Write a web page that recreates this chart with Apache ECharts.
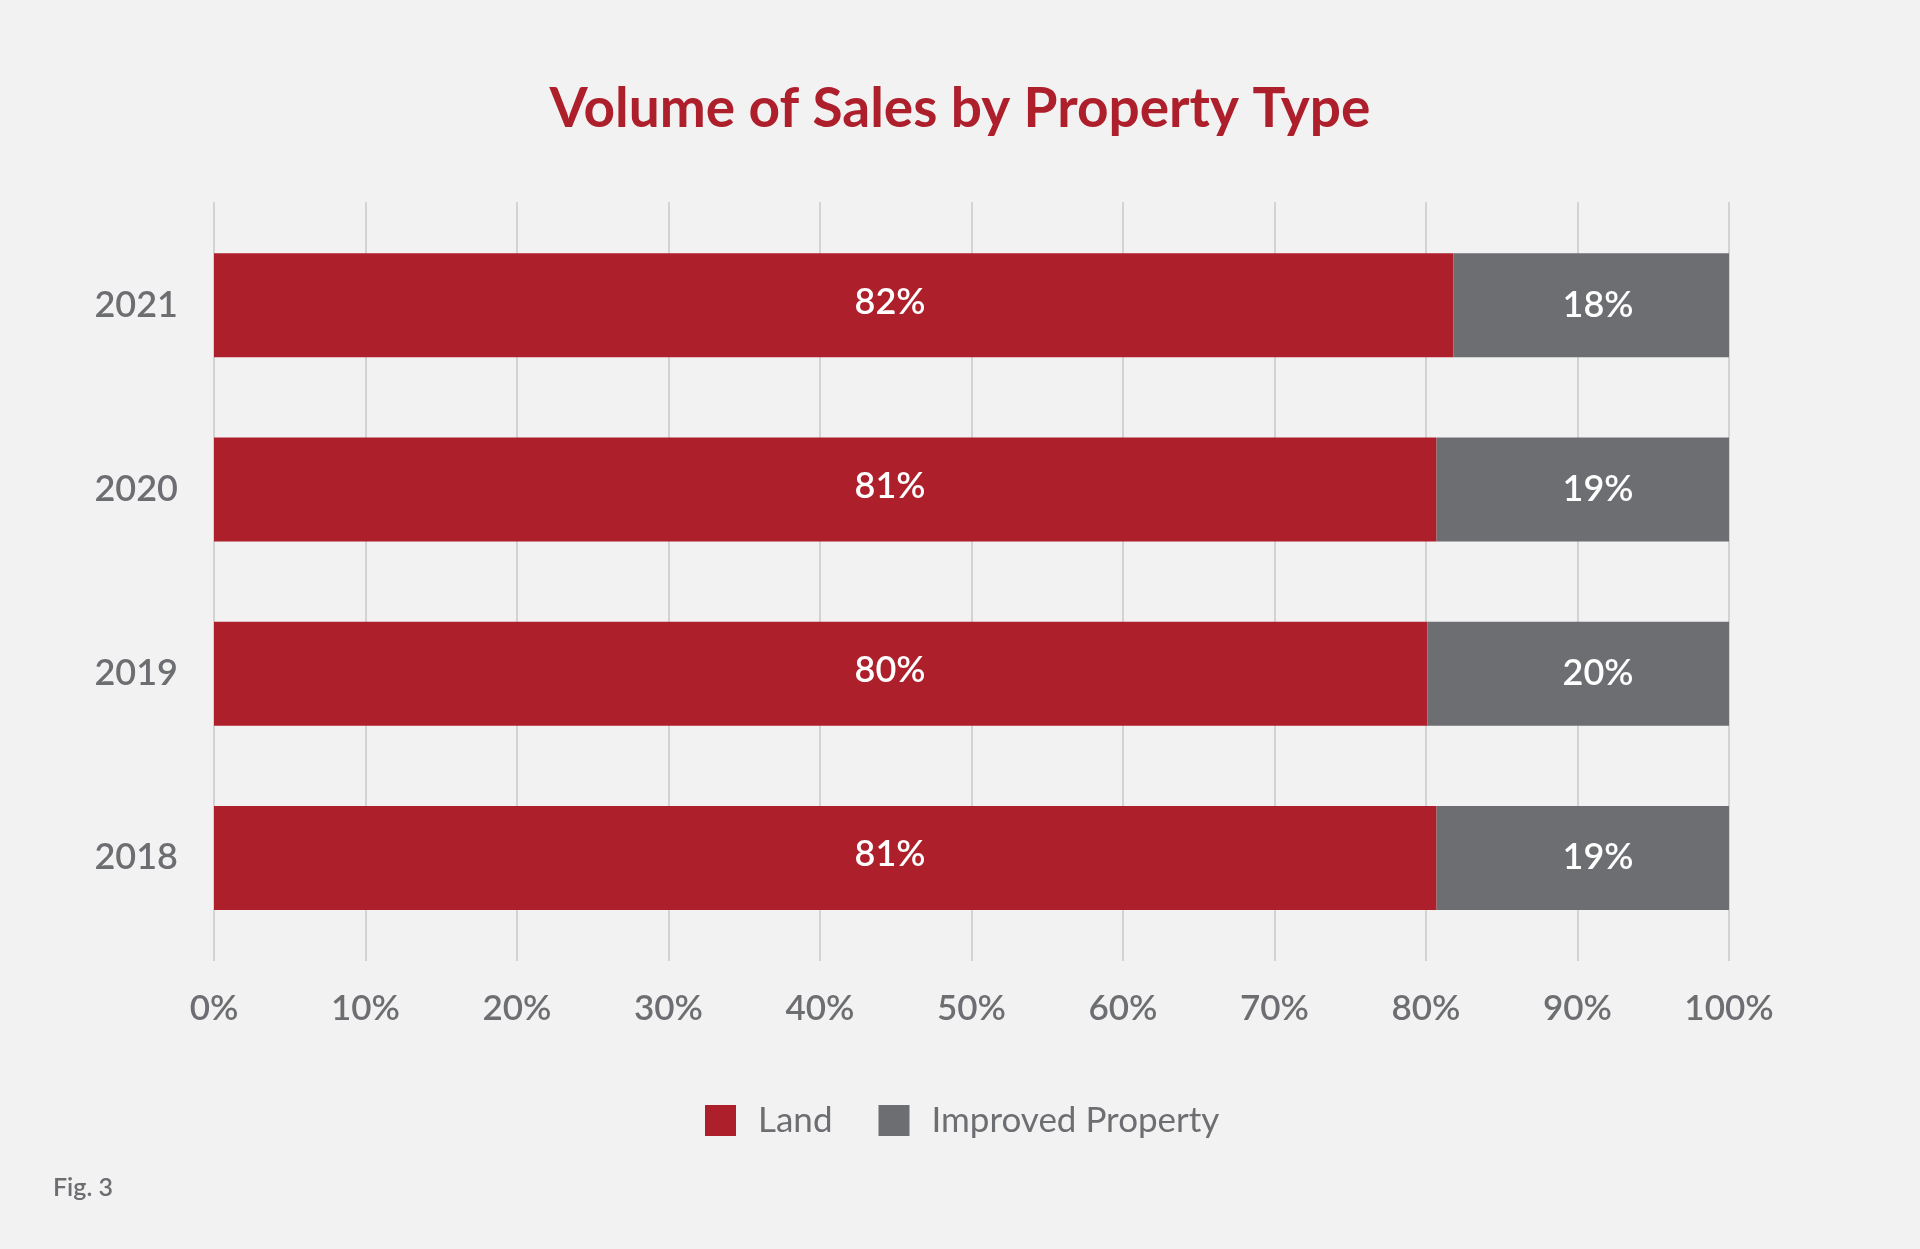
<!DOCTYPE html>
<html><head><meta charset="utf-8">
<script src="https://cdn.jsdelivr.net/npm/echarts@6/dist/echarts.min.js"></script>
<style>html,body{margin:0;padding:0;background:#f2f2f2;}#c{width:1920px;height:1249px;}</style>
</head><body><div id="c"></div>
<script>
const years = ['2018', '2019', '2020', '2021'];
const landShare = [80.7, 80.1, 80.7, 81.8];
const improvedShare = [19.3, 19.9, 19.3, 18.2];
const xTicks = [0, 10, 20, 30, 40, 50, 60, 70, 80, 90, 100];

const RED = '#ae1f2c', GRAY = '#6d6e71', TXT = '#6d6e71';
const FONT = 'Lato, "Open Sans", sans-serif';
const chart = echarts.init(document.getElementById('c'));
chart.setOption({
  backgroundColor: '#f2f2f2',
  title: [
    { text: 'Volume of Sales by Property Type', left: 'center', top: 73,
      textStyle: { fontFamily: FONT, fontWeight: 'bold', fontSize: 55, lineHeight: 62, color: RED } },
    { text: 'Fig. 3', left: 48, top: 1170,
      textStyle: { fontFamily: FONT, fontWeight: 600, fontSize: 25, color: TXT } }
  ],
  legend: {
    left: 700, top: 1098, itemWidth: 31, itemHeight: 31, itemGap: 46, icon: 'rect',
    textStyle: { fontFamily: FONT, fontSize: 35, color: TXT, padding: [0, 0, 0, 17] },
    data: ['Land', 'Improved Property']
  },
  grid: [
    { left: 214, right: 191, top: 202, height: 759 },
    { left: 214, right: 191, top: 213, height: 737 }
  ],
  xAxis: [
    { gridIndex: 0, type: 'value', min: xTicks[0], max: xTicks[xTicks.length - 1], interval: 10,
      axisLine: { show: false }, axisTick: { show: false },
      splitLine: { show: true, lineStyle: { color: '#c8c8c8', width: 1.5 } },
      axisLabel: { formatter: '{value}%', fontFamily: FONT, fontWeight: 600, fontSize: 35, lineHeight: 40, color: TXT, margin: 28 } },
    { gridIndex: 1, type: 'value', min: 0, max: 100, show: false }
  ],
  yAxis: [
    { gridIndex: 0, type: 'category', data: years, show: false },
    { gridIndex: 1, type: 'category', data: years,
      axisLine: { show: false }, axisTick: { show: false },
      axisLabel: { fontFamily: FONT, fontWeight: 600, fontSize: 36, color: TXT, margin: 36 } }
  ],
  series: [
    { name: 'Land', type: 'bar', stack: 's', xAxisIndex: 1, yAxisIndex: 1, barWidth: 104,
      itemStyle: { color: RED }, data: landShare,
      label: { show: true, position: 'insideLeft', distance: 676, align: 'center', offset: [0, -3],
        formatter: p => Math.round(p.value) + '%', fontFamily: FONT, fontWeight: 600, fontSize: 36, color: '#fff' } },
    { name: 'Improved Property', type: 'bar', stack: 's', xAxisIndex: 1, yAxisIndex: 1, barWidth: 104,
      itemStyle: { color: GRAY }, data: improvedShare,
      label: { show: true, position: 'insideRight', distance: 131, align: 'center',
        formatter: p => Math.round(p.value) + '%', fontFamily: FONT, fontWeight: 600, fontSize: 36, color: '#fff' } }
  ]
});
</script></body></html>
